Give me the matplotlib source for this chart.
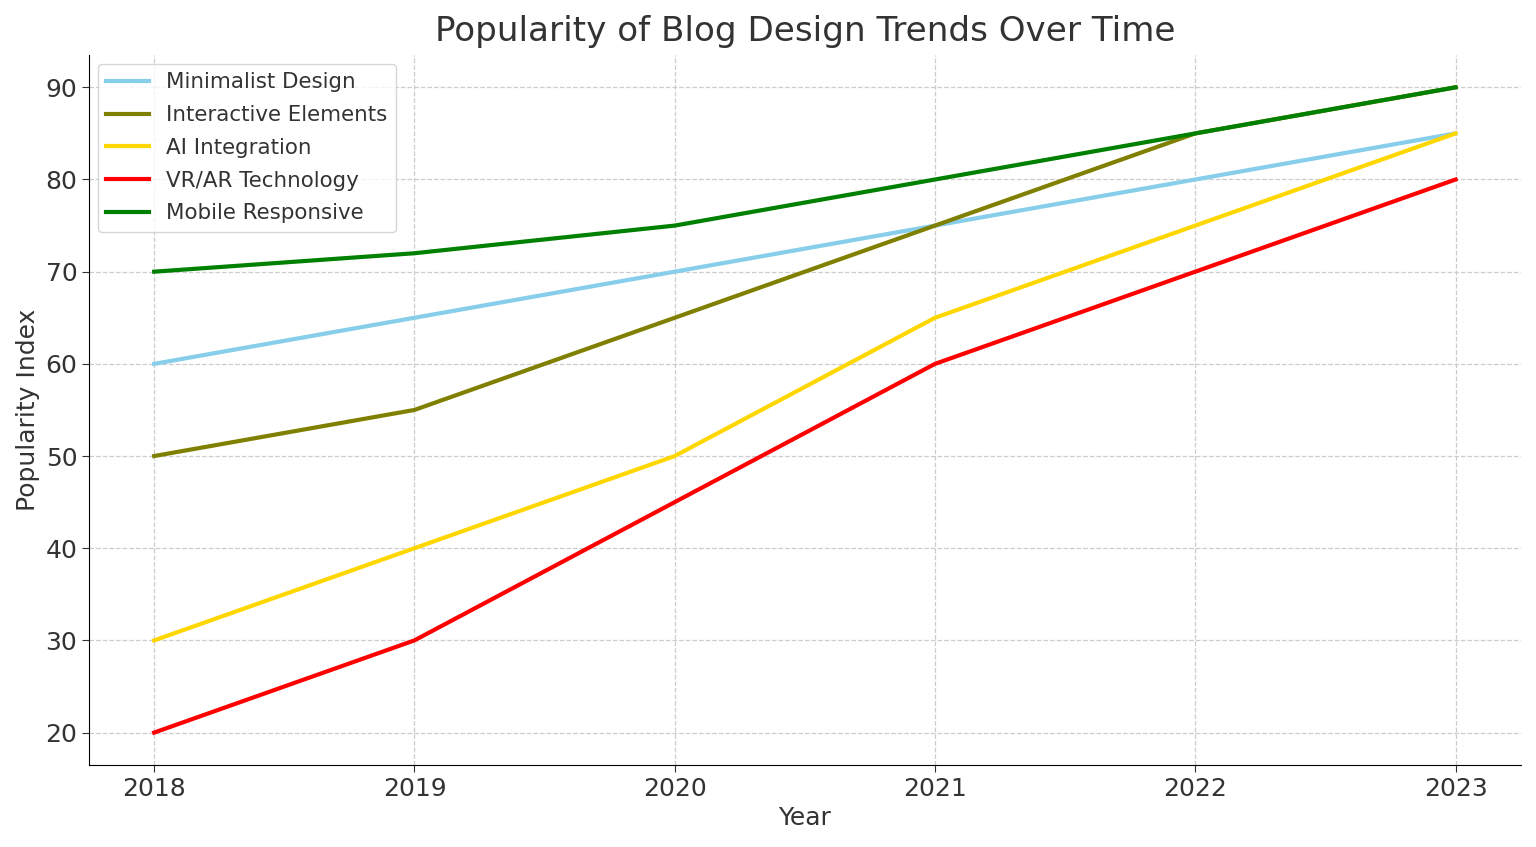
import matplotlib
matplotlib.use("Agg")
import matplotlib.pyplot as plt

years = [2018, 2019, 2020, 2021, 2022, 2023]
minimalist = [60, 65, 70, 75, 80, 85]
interactive = [50, 55, 65, 75, 85, 90]
ai = [30, 40, 50, 65, 75, 85]
vrar = [20, 30, 45, 60, 70, 80]
mobile = [70, 72, 75, 80, 85, 90]

series = [
    ("Minimalist Design", minimalist, "skyblue"),
    ("Interactive Elements", interactive, "olive"),
    ("AI Integration", ai, "gold"),
    ("VR/AR Technology", vrar, "red"),
    ("Mobile Responsive", mobile, "green"),
]

plt.rcParams["font.family"] = ["DejaVu Sans"]
text_color = "#333333"

fig, ax = plt.subplots(figsize=(15.36, 8.47), dpi=100)
for name, vals, color in series:
    ax.plot(years, vals, color=color, linewidth=3, label=name)

ax.set_title("Popularity of Blog Design Trends Over Time", fontsize=24.6,
             color=text_color, pad=10)
ax.set_xlabel("Year", fontsize=18, color=text_color)
ax.set_ylabel("Popularity Index", fontsize=18, color=text_color)
ax.set_xticks(years)
ax.set_yticks(range(20, 100, 10))
ax.tick_params(labelsize=18, colors=text_color, length=5)
ax.grid(True, linestyle="--", color="#cccccc", linewidth=0.9)
ax.spines["top"].set_visible(False)
ax.spines["right"].set_visible(False)
ax.set_xlim(2017.75, 2023.25)
ax.set_ylim(16.5, 93.5)
leg = ax.legend(loc="upper left", fontsize=15.4, frameon=True,
                borderaxespad=0.4, labelspacing=0.6)
for t in leg.get_texts():
    t.set_color(text_color)

fig.subplots_adjust(left=0.058, right=0.99, top=0.935, bottom=0.097)
fig.savefig("out.png", dpi=100)
